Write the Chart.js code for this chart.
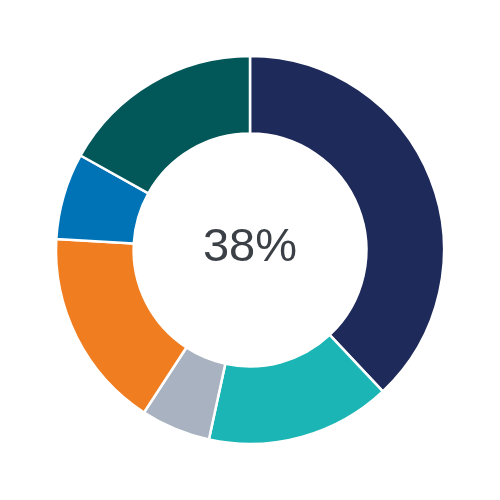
<!DOCTYPE html>
<html>
<head>
<meta charset="utf-8">
<script src="https://cdn.jsdelivr.net/npm/chart.js@4"></script>
<style>
html,body{margin:0;padding:0;background:#fff;}
#wrap{width:500px;height:500px;position:relative;}
</style>
</head>
<body>
<div id="wrap"><canvas id="c" width="500" height="500"></canvas></div>
<script>
const categories = ["Segment A", "Segment B", "Segment C", "Segment D", "Segment E", "Segment F"];
const values = [38, 15.4, 5.8, 16.7, 7.2, 16.9];
const colors = ["#1e2a5a", "#1cb5b5", "#a8b2c1", "#f07d20", "#0073b6", "#025859"];
const centerLabel = "38%";

const centerText = {
  id: 'centerText',
  afterDraw(chart) {
    const ctx = chart.ctx;
    const meta = chart.getDatasetMeta(0).data[0];
    ctx.save();
    ctx.font = '400 47px "Liberation Sans", Arial, sans-serif';
    ctx.fillStyle = '#3b4046';
    ctx.textAlign = 'center';
    ctx.textBaseline = 'middle';
    ctx.fillText(centerLabel, meta.x, meta.y - 2);
    ctx.restore();
  }
};

new Chart(document.getElementById('c'), {
  type: 'doughnut',
  data: {
    labels: categories,
    datasets: [{
      data: values,
      backgroundColor: colors,
      borderColor: '#ffffff',
      borderWidth: 2.5
    }]
  },
  options: {
    responsive: false,
    animation: false,
    radius: 194,
    cutout: '60%',
    layout: { padding: 0 },
    plugins: { legend: { display: false }, tooltip: { enabled: false } }
  },
  plugins: [centerText]
});
</script>
</body>
</html>
